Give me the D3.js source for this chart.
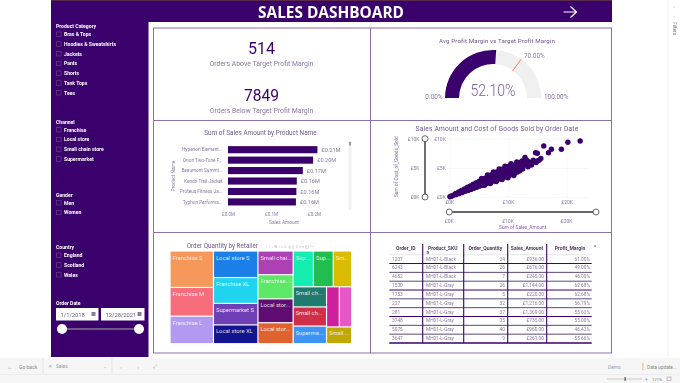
<!DOCTYPE html>
<html>
<head>
<meta charset="utf-8">
<script src="https://cdn.jsdelivr.net/npm/d3@7"></script>
<style>
  html, body { margin: 0; padding: 0; background: #fff; overflow: hidden; }
  svg { display: block; font-family: "Roboto", sans-serif; filter: blur(0.45px); }
</style>
</head>
<body>
<div id="chart"></div>
<script>
// slicers
var productCategories = ["Bras & Tops", "Hoodies & Sweatshirts", "Jackets", "Pants", "Shorts", "Tank Tops", "Tees"];
var channels = ["Franchise", "Local store", "Small chain store", "Supermarket"];
var genders = ["Men", "Women"];
var countries = ["England", "Scotland", "Wales"];

// gauge
var gaugeValue = 52.1;
var gaugeTarget = 70;

// bar chart
var productNames = ["Hyperion Element...", "Orion Two-Tone F...", "Beaumont Summi...", "Kendri Trail Jacket", "Proteus Fitness Ja...", "Typhon Performa..."];
var productSales = [0.208, 0.198, 0.174, 0.16, 0.159, 0.158];
var productLabels = ["£0.21M", "£0.20M", "£0.17M", "£0.16M", "£0.16M", "£0.16M"];

// scatter, values in thousands
var salesAmount = [
  0.1, 0.3, 0.5, 0.8, 1.0, 1.3, 1.5, 1.8, 2.1, 2.3, 2.6, 2.9, 3.1, 3.4, 3.7, 3.9, 4.2, 4.5, 4.8, 5.0,
  5.3, 5.6, 5.9, 6.1, 6.4, 6.7, 7.0, 7.2, 7.5, 7.8, 8.1, 8.3, 8.6, 8.9, 9.2, 9.4, 9.7, 10.0, 10.3, 10.6,
  1.2, 1.7, 2.2, 2.7, 3.2, 3.7, 4.2, 4.7, 5.2, 5.7, 6.2, 6.7, 7.2, 7.7, 8.2, 8.7, 9.2, 9.7, 10.2, 10.7, 11.2, 11.6,
  1.1, 1.6, 2.1, 2.6, 3.1, 3.6, 4.1, 4.6, 5.1, 5.6, 6.1, 6.6, 7.1, 7.6, 8.1, 8.6, 9.1, 9.6, 10.1, 10.6, 11.1, 11.6, 12.0,
  2.0, 2.4, 2.8, 3.3, 3.8, 4.3, 4.8, 5.3, 5.8, 6.3, 6.8, 7.3, 7.8, 8.3, 8.8, 9.3, 9.8, 10.3, 10.8, 11.3,
  1.9, 2.4, 2.9, 3.4, 3.9, 4.4, 4.9, 5.4, 5.9, 6.4, 6.9, 7.4, 7.9, 8.4, 8.9, 9.4, 9.9, 10.4, 10.9, 11.4,
  5.5, 6.5, 7.5, 8.5, 9.5, 10.5, 11.5, 12.4, 13.2,
  6.0, 7.0, 8.0, 9.0, 10.0, 11.0, 12.0, 12.5, 13.4, 14.0, 14.8,
  10.9, 11.2, 11.4, 11.8, 11.9, 12.2, 12.4, 12.6, 12.8, 12.9, 13.0, 13.3, 13.6, 13.9, 14.3, 14.6, 15.0, 15.3, 15.6,
  14.7, 15.0, 16.1, 16.9, 17.4, 19.1, 20.2, 22.3
];
var costOfGoods = [
  0.05, 0.14, 0.22, 0.36, 0.46, 0.58, 0.7, 0.8, 0.96, 1.02, 1.2, 1.3, 1.42, 1.5, 1.7, 1.76, 1.92, 2.0, 2.2, 2.26,
  2.42, 2.5, 2.7, 2.76, 2.9, 3.0, 3.2, 3.26, 3.4, 3.5, 3.7, 3.76, 3.9, 4.0, 4.2, 4.26, 4.4, 4.5, 4.7, 4.8,
  0.42, 0.6, 0.78, 0.98, 1.12, 1.3, 1.5, 1.66, 1.88, 2.02, 2.24, 2.38, 2.6, 2.76, 2.96, 3.12, 3.3, 3.46, 3.68, 3.9, 4.1, 4.3,
  0.6, 0.86, 1.14, 1.38, 1.66, 1.9, 2.18, 2.44, 2.72, 2.96, 3.24, 3.5, 3.78, 4.02, 4.3, 4.54, 4.8, 5.02, 5.22, 5.4, 5.5, 5.7, 5.9,
  0.8, 0.96, 1.12, 1.34, 1.54, 1.76, 1.96, 2.16, 2.38, 2.58, 2.8, 3.0, 3.2, 3.42, 3.6, 3.82, 4.02, 4.24, 4.46, 4.66,
  0.94, 1.18, 1.42, 1.68, 1.92, 2.16, 2.42, 2.66, 2.9, 3.16, 3.4, 3.64, 3.88, 4.14, 4.38, 4.62, 4.86, 5.1, 5.2, 5.3,
  3.2, 3.8, 4.3, 4.8, 5.3, 5.7, 6.0, 6.2, 6.3,
  2.0, 2.3, 2.65, 3.0, 3.3, 3.7, 4.5, 4.8, 5.2, 5.5, 5.9,
  4.4, 4.7, 5.0, 4.8, 5.3, 5.0, 5.5, 5.3, 5.9, 6.8, 5.6, 5.8, 6.0, 5.9, 6.3, 6.1, 6.2, 6.3, 6.6,
  7.6, 7.5, 8.75, 7.6, 8.2, 8.2, 9.4, 9.6
];

// treemap, nested by column then block. dir says how the children split
var retailerTree = {
  dir: "h", children: [
    {dir: "v", children: [
      {name: "Franchise S", value: 1405, color: "#f5985a"},
      {name: "Franchise M", value: 1107, color: "#f76d7c"},
      {name: "Franchise L", value: 1062, color: "#b29af0"}]},
    {dir: "v", children: [
      {name: "Local store S", value: 1047, color: "#1a80e8"},
      {name: "Franchise XL", value: 1020, color: "#20d3ee"},
      {name: "Supermarket S", value: 848, color: "#6f3fb5"},
      {name: "Local store XL", value: 742, color: "#14148f"}]},
    {dir: "v", children: [
      {name: "Small chai...", value: 740, color: "#ae40b5"},
      {name: "Franchise ...", value: 756, color: "#5de868"},
      {name: "Local stor...", value: 746, color: "#600d73"},
      {name: "Local stor...", value: 656, color: "#e0622e"}]},
    {dir: "v", children: [
      {dir: "h", children: [
        {name: "Sup...", value: 644, color: "#14edb0"},
        {name: "Sup...", value: 628, color: "#1fbe4e"},
        {name: "Sm...", value: 586, color: "#d9bc00"}]},
      {dir: "h", children: [
        {dir: "v", children: [
          {name: "Small ch...", value: 597, color: "#1f7a70"},
          {name: "Small ch...", value: 567, color: "#cf3048"},
          {name: "Superma...", value: 522, color: "#3d94f5"}]},
        {dir: "v", children: [
          {dir: "h", children: [
            {name: "", value: 454, color: "#cf1f9c"},
            {name: "", value: 442, color: "#e757c7"}]},
          {name: "Small ...", value: 375, color: "#bfa800"}]}]}]}
  ]
};

// table
var tableHeaders = ["Order_ID", "Product_SKU", "Order_Quantity", "Sales_Amount", "Profit_Margin"];
var orderIds = ["1207", "6243", "4652", "1530", "1753", "227", "281", "3748", "5075", "3647"];
var skus = ["MH01-L-Black", "MH01-L-Black", "MH01-L-Black", "MH01-L-Gray", "MH01-L-Gray", "MH01-L-Gray", "MH01-L-Gray", "MH01-L-Gray", "MH01-L-Gray", "MH01-L-Gray"];
var quantities = ["24", "26", "7", "26", "5", "32", "37", "35", "40", "9"];
var amounts = ["£936.00", "£676.00", "£245.00", "£1,144.00", "£220.00", "£1,216.00", "£1,369.00", "£735.00", "£960.00", "£261.00"];
var margins = ["61.00%", "49.00%", "46.00%", "62.68%", "62.68%", "56.79%", "55.62%", "55.00%", "46.42%", "55.66%"];

var purple = "#3a006b";
var border = "#8c6fae";
var softText = "#8b7aa3";
var titleText = "#6f5a8e";

var svg = d3.select("#chart").append("svg")
  .attr("width", 680)
  .attr("height", 383);

function addText(parent, x, y, str, size, color, anchor, weight) {
  return parent.append("text")
    .attr("x", x)
    .attr("y", y)
    .attr("font-size", size)
    .attr("fill", color)
    .attr("text-anchor", anchor || "start")
    .attr("font-weight", weight || 400)
    .text(str);
}

// page frame
svg.append("rect").attr("x", 51).attr("y", 0).attr("width", 561).attr("height", 1.5).attr("fill", "#5a2a4a");
svg.append("rect").attr("x", 51).attr("y", 1).attr("width", 561).attr("height", 21).attr("fill", purple);
svg.append("rect").attr("x", 51).attr("y", 1).attr("width", 97.5).attr("height", 356).attr("fill", purple);

addText(svg, 331, 17.5, "SALES DASHBOARD", 15.4, "#fff", "middle", 700)
  .attr("font-family", "'Open Sans', sans-serif");

// header arrow
svg.append("path")
  .attr("d", "M563.5,12H576M570.5,6.5L576.5,12L570.5,17.5")
  .attr("fill", "none").attr("stroke", "#fff").attr("stroke-width", 1.2);

// slicers on the left
var sidebar = svg.append("g");

function slicer(title, items, top, step) {
  addText(sidebar, 56, top, title, 5.1, "#fff", "start", 700);
  items.forEach(function(item, i) {
    var y = top + 8 + i * step;
    sidebar.append("rect")
      .attr("x", 56.5).attr("y", y - 4).attr("width", 4.5).attr("height", 4.5)
      .attr("fill", "none").attr("stroke", "#6f4a92").attr("stroke-width", 0.6);
    addText(sidebar, 64, y, item, 5.1, "#fff", "start", 700);
  });
}
slicer("Product Category", productCategories, 28, 9.75);
slicer("Channel", channels, 123.5, 9.75);
slicer("Gender", genders, 196.5, 9.75);
slicer("Country", countries, 249, 9.75);

addText(sidebar, 56, 305, "Order Date", 5.1, "#fff", "start", 700);
[[56, 42.5, "1/1/2018"], [101, 43.5, "12/28/2021"]].forEach(function(d) {
  sidebar.append("rect").attr("x", d[0]).attr("y", 308).attr("width", d[1]).attr("height", 12.5).attr("fill", "#fff");
  addText(sidebar, d[0] + 4.5, 317, d[2], 5.8, "#6b5a7d");
  sidebar.append("rect").attr("x", d[0] + d[1] - 7).attr("y", 312).attr("width", 4).attr("height", 4).attr("fill", "#8b7a9c");
});
sidebar.append("line").attr("x1", 62).attr("x2", 139).attr("y1", 329).attr("y2", 329)
  .attr("stroke", "#6e5a80").attr("stroke-width", 2);
[62, 139].forEach(function(x) {
  sidebar.append("circle").attr("cx", x).attr("cy", 329).attr("r", 5).attr("fill", "#fff");
});

// panel borders
var panel = svg.append("g").attr("fill", "none").attr("stroke", border).attr("stroke-width", 1);
panel.append("rect").attr("x", 153.5).attr("y", 28).attr("width", 458).attr("height", 325);
panel.append("line").attr("x1", 370.5).attr("x2", 370.5).attr("y1", 28).attr("y2", 353);
panel.append("line").attr("x1", 153.5).attr("x2", 611.5).attr("y1", 120.5).attr("y2", 120.5);
panel.append("line").attr("x1", 153.5).attr("x2", 611.5).attr("y1", 232.5).attr("y2", 232.5);

// kpi cards, the number font in the picture is narrow so squeeze to its width
addText(svg, 261.5, 53.5, "514", 16.5, purple, "middle")
  .attr("textLength", 27).attr("lengthAdjust", "spacingAndGlyphs");
addText(svg, 261.5, 65.5, "Orders Above Target Profit Margin", 6.9, softText, "middle");
addText(svg, 261.5, 101, "7849", 16.5, purple, "middle")
  .attr("textLength", 35).attr("lengthAdjust", "spacingAndGlyphs");
addText(svg, 261.5, 113, "Orders Below Target Profit Margin", 6.9, softText, "middle");

// gauge
addText(svg, 497, 42.5, "Avg Profit Margin vs Target Profit Margin", 6.2, titleText, "middle").attr("letter-spacing", 0.1);
var gaugeScale = d3.scaleLinear().domain([0, 100]).range([-Math.PI / 2, Math.PI / 2]);
var gaugeArc = d3.arc().innerRadius(34).outerRadius(48);
var gauge = svg.append("g").attr("transform", "translate(493,98)");
gauge.append("path")
  .attr("d", gaugeArc({startAngle: gaugeScale(0), endAngle: gaugeScale(100)}))
  .attr("fill", "#f0f0f0");
gauge.append("path")
  .attr("d", gaugeArc({startAngle: gaugeScale(0), endAngle: gaugeScale(gaugeValue)}))
  .attr("fill", purple);
var targetAngle = gaugeScale(gaugeTarget);
gauge.append("line")
  .attr("x1", 33 * Math.sin(targetAngle)).attr("y1", -33 * Math.cos(targetAngle))
  .attr("x2", 48 * Math.sin(targetAngle)).attr("y2", -48 * Math.cos(targetAngle))
  .attr("stroke", "#e8805a").attr("stroke-width", 1);
addText(svg, 493, 96, "52.10%", 17, "#7a62a0", "middle", 300)
  .attr("textLength", 45).attr("lengthAdjust", "spacingAndGlyphs");
addText(svg, 442.5, 98.5, "0.00%", 6.4, softText, "end");
addText(svg, 544, 98.5, "100.00%", 6.4, softText);
addText(svg, 524, 58, "70.00%", 6.4, softText);

// bar chart
addText(svg, 260.5, 135, "Sum of Sales Amount by Product Name", 6.4, titleText, "middle");
var barX = d3.scaleLinear().domain([0, 0.2]).range([228, 314]);
var barY = d3.scaleBand().domain(d3.range(productNames.length)).range([142.8, 208.8]).padding(0.32);

var barAxis = svg.append("g")
  .attr("transform", "translate(0,210)")
  .call(d3.axisBottom(barX).tickValues([0, 0.1, 0.2]).tickSize(0).tickFormat(function(d) { return "£" + d.toFixed(1) + "M"; }));
barAxis.select(".domain").remove();
barAxis.selectAll("text").attr("font-size", 4.6).attr("fill", softText).attr("font-family", "Roboto");

svg.selectAll(".bar").data(productSales).enter().append("rect")
  .attr("class", "bar")
  .attr("x", barX(0))
  .attr("y", function(d, i) { return barY(i); })
  .attr("width", function(d) { return barX(d) - barX(0); })
  .attr("height", barY.bandwidth())
  .attr("fill", purple);

productSales.forEach(function(d, i) {
  var y = barY(i) + barY.bandwidth() / 2 + 2;
  addText(svg, 222.5, y - 0.2, productNames[i], 4.7, softText, "end");
  addText(svg, barX(d) + 4, y + 0.2, productLabels[i], 5.6, softText);
});
addText(svg, 284, 224, "Sales Amount", 4.8, softText, "middle");
addText(svg, 0, 0, "Product Name", 4.8, softText, "middle")
  .attr("transform", "translate(174.5,176) rotate(-90)");
svg.append("rect").attr("x", 348.5).attr("y", 141).attr("width", 3).attr("height", 69).attr("fill", "#f1f1f1");
svg.append("rect").attr("x", 349).attr("y", 142).attr("width", 2).attr("height", 3.5).attr("fill", "#999");

// scatter
addText(svg, 497, 131, "Sales Amount and Cost of Goods Sold by Order Date", 6.7, titleText, "middle").attr("letter-spacing", 0.15);
var scatterX = d3.scaleLinear().domain([0, 25]).range([449.3, 596]);
var scatterY = d3.scaleLinear().domain([0, 10]).range([197, 138.7]);

var xAxisG = svg.append("g").attr("transform", "translate(0,197)")
  .call(d3.axisBottom(scatterX).tickValues([0, 10, 20]).tickSize(-58).tickPadding(3).tickFormat(function(d) { return "£" + d + "K"; }));
var yAxisG = svg.append("g").attr("transform", "translate(449.3,0)")
  .call(d3.axisLeft(scatterY).tickValues([0, 5, 10]).tickSize(-140).tickPadding(3.5).tickFormat(function(d) { return "£" + d + "K"; }));
[xAxisG, yAxisG].forEach(function(g) {
  g.select(".domain").remove();
  g.selectAll("line").attr("stroke", "#e4e4e4").attr("stroke-dasharray", "1,1.5").attr("stroke-width", 0.6);
  g.selectAll("text").attr("font-size", 5).attr("fill", softText).attr("font-family", "Roboto");
});

svg.selectAll(".dot").data(salesAmount).enter().append("circle")
  .attr("class", "dot")
  .attr("cx", function(d) { return scatterX(d); })
  .attr("cy", function(d, i) { return scatterY(costOfGoods[i]); })
  .attr("r", 2.7)
  .attr("fill", purple);

// scatter range sliders with their own labels
[[0, "£0K"], [5, "£5K"], [10, "£10K"]].forEach(function(d) {
  addText(svg, 419.5, scatterY(d[0]) + 1.8, d[1], 5, softText, "end");
});
[[0, "£0K"], [10, "£10K"], [20, "£20K"]].forEach(function(d) {
  addText(svg, scatterX(d[0]), 223, d[1], 5, softText, "middle");
});
var sliderLines = svg.append("g").attr("stroke", "#333").attr("stroke-width", 1.4);
sliderLines.append("line").attr("x1", 425).attr("x2", 425).attr("y1", scatterY(10)).attr("y2", scatterY(0));
sliderLines.append("line").attr("x1", 449.3).attr("x2", 596).attr("y1", 212).attr("y2", 212);
[[425, scatterY(10)], [425, scatterY(0)], [449.3, 212], [596, 212]].forEach(function(d) {
  svg.append("circle").attr("cx", d[0]).attr("cy", d[1]).attr("r", 3)
    .attr("fill", "#fff").attr("stroke", "#555").attr("stroke-width", 0.9);
});
addText(svg, 522.7, 229, "Sum of Sales_Amount", 4.8, "#8a62ad", "middle");
addText(svg, 0, 0, "Sum of Cost_of_Goods_Sold", 4.8, "#8a62ad", "middle")
  .attr("transform", "translate(398,166.7) rotate(-90)");

// treemap
addText(svg, 186.7, 247.5, "Order Quantity by Retailer", 6.3, titleText);
var visualIcons = "↑ ↓ ↓ ⇅ ↑ ⌂ ≡ ◎ ▯ ⇧ ▿ ▿ ◰ ⋯";
addText(svg, 265, 248, visualIcons, 4, "#aaa");

var root = d3.hierarchy(retailerTree).sum(function(d) { return d.children ? 0 : d.value; });
d3.treemap()
  .size([181.7, 92.7])
  .tile(function(node, x0, y0, x1, y1) {
    (node.data.dir === "h" ? d3.treemapDice : d3.treemapSlice)(node, x0, y0, x1, y1);
  })(root);

var cells = svg.append("g").attr("transform", "translate(170,251)")
  .selectAll("g").data(root.leaves()).enter().append("g")
  .attr("transform", function(d) { return "translate(" + d.x0 + "," + d.y0 + ")"; });
cells.append("rect")
  .attr("x", 0.6).attr("y", 0.6)
  .attr("width", function(d) { return d.x1 - d.x0 - 1.2; })
  .attr("height", function(d) { return d.y1 - d.y0 - 1.2; })
  .attr("fill", function(d) { return d.data.color; });
cells.append("text")
  .attr("x", 2.5).attr("y", 8.5)
  .attr("font-size", 5.8)
  .attr("fill", "#fff")
  .attr("fill-opacity", 0.85)
  .text(function(d) { return d.data.name; });

// table
var colEdges = [389.3, 422.7, 463.7, 507.7, 546.7, 591.7];
var headerCenters = [405.7, 442.7, 485.3, 527, 570];
var rowY = d3.scaleLinear().domain([0, 10]).range([254.7, 343]);
tableHeaders.forEach(function(h, i) {
  addText(svg, headerCenters[i], 249.5, h, 5, "#4c3a6b", "middle", 700);
});
addText(svg, 426.5, 254, "n", 4.6, "#4c3a6b", "start", 700);
addText(svg, 595, 248, "⚬", 5, "#888", "middle");
svg.append("line").attr("x1", colEdges[0]).attr("x2", colEdges[5]).attr("y1", rowY(0)).attr("y2", rowY(0))
  .attr("stroke", "#ccc").attr("stroke-width", 0.5);
orderIds.forEach(function(id, i) {
  var y = rowY(i) + 5.9;
  addText(svg, 392, y, id, 4.8, softText);
  addText(svg, 426, y, skus[i], 4.8, softText);
  addText(svg, 505, y, quantities[i], 4.8, softText, "end");
  addText(svg, 544, y, amounts[i], 4.8, softText, "end");
  addText(svg, 590, y, margins[i], 4.8, softText, "end");
  svg.append("line").attr("x1", colEdges[0]).attr("x2", colEdges[5]).attr("y1", rowY(i + 1)).attr("y2", rowY(i + 1))
    .attr("stroke", i % 3 === 0 ? purple : "#5a4a78").attr("stroke-width", i === 9 ? 1.4 : 1);
});
colEdges.slice(1, 5).forEach(function(x) {
  svg.append("line").attr("x1", x).attr("x2", x).attr("y1", 244).attr("y2", 343)
    .attr("stroke", purple).attr("stroke-width", 1.1);
});

// filters pane
svg.append("line").attr("x1", 668).attr("x2", 668).attr("y1", 0).attr("y2", 358).attr("stroke", "#eee").attr("stroke-width", 0.8);
addText(svg, 674, 8, "‹", 5, "#888", "middle");
addText(svg, 674, 18, "‹", 4, "#888", "middle");
addText(svg, 0, 0, "Filters", 4.8, "#777")
  .attr("transform", "translate(672.5,22) rotate(90)");

// status bar
svg.append("rect").attr("x", 0).attr("y", 358).attr("width", 680).attr("height", 25).attr("fill", "#f6f6f6");
svg.append("line").attr("x1", 0).attr("x2", 680).attr("y1", 374.5).attr("y2", 374.5).attr("stroke", "#ececec");
[43, 112].forEach(function(x) {
  svg.append("line").attr("x1", x).attr("x2", x).attr("y1", 358).attr("y2", 374).attr("stroke", "#e6e6e6");
});
addText(svg, 10, 368.5, "←", 5.5, "#888", "middle");
addText(svg, 19, 368.5, "Go back", 5, "#888");
addText(svg, 49, 368, "≡", 4.5, "#999");
addText(svg, 56, 368, "Sales", 4.8, "#999");
addText(svg, 105, 368, "⌄", 4.5, "#aaa", "middle");
addText(svg, 121, 368.5, "‹", 5.5, "#aaa", "middle");
addText(svg, 138, 368.5, "›", 5.5, "#aaa", "middle");
addText(svg, 155, 368, "⤢", 5, "#888", "middle");
addText(svg, 608, 368.5, "Demo", 4.8, "#8ba0b8");
svg.append("rect").attr("x", 642.5).attr("y", 363).attr("width", 0.8).attr("height", 7).attr("fill", "#d8a94a");
addText(svg, 647, 368.5, "Data update...", 4.8, "#888");
svg.append("line").attr("x1", 607).attr("x2", 642).attr("y1", 379).attr("y2", 379).attr("stroke", "#aaa").attr("stroke-width", 0.6);
svg.append("rect").attr("x", 624.5).attr("y", 377).attr("width", 1.2).attr("height", 4).attr("fill", "#555");
addText(svg, 645, 381, "+", 4.5, "#888");
addText(svg, 652, 381, "121%", 4.2, "#888");
svg.append("rect").attr("x", 667).attr("y", 377).attr("width", 4).attr("height", 3.5).attr("fill", "none").attr("stroke", "#888").attr("stroke-width", 0.5);
</script>
</body>
</html>
